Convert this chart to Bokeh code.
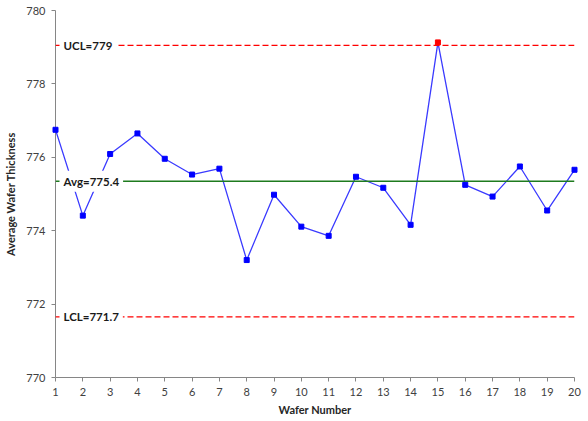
from bokeh.plotting import figure
from bokeh.models import Range1d, FixedTicker, Span, Label, ColumnDataSource
from bokeh.embed import file_html
from bokeh.resources import INLINE

wafer = list(range(1, 21))
thickness = [776.75, 774.41, 776.09, 776.65, 775.96, 775.53, 775.69, 773.20, 774.98, 774.11,
             773.86, 775.47, 775.17, 774.16, 779.13, 775.25, 774.93, 775.75, 774.55, 775.66]
ucl = 779.05
avg = 775.35
lcl = 771.65
limit_labels = ["UCL=779", "Avg=775.4", "LCL=771.7"]
x_ticks = list(range(1, 21))
y_ticks = [770, 772, 774, 776, 778, 780]

FONT = "Lato"

p = figure(width=588, height=421, output_backend="svg", toolbar_location=None,
           x_range=Range1d(1, 20), y_range=Range1d(770, 780),
           min_border_left=55, min_border_right=14, min_border_top=10, min_border_bottom=44)
p.outline_line_color = None
p.grid.visible = False
p.background_fill_color = "white"
p.border_fill_color = "white"

for ax in (p.xaxis[0], p.yaxis[0]):
    ax.axis_line_color = "#868686"
    ax.axis_line_width = 1
    ax.major_tick_line_color = "#868686"
    ax.major_tick_out = 4
    ax.major_tick_in = 0
    ax.minor_tick_out = 0
    ax.minor_tick_in = 0
    ax.major_label_text_font = FONT
    ax.major_label_text_font_size = "11px"
    ax.major_label_text_color = "#404040"
    ax.axis_label_text_font = FONT
    ax.axis_label_text_font_size = "11px"
    ax.axis_label_text_font_style = "bold"
    ax.axis_label_text_color = "#262626"

p.xaxis.ticker = FixedTicker(ticks=x_ticks)
p.yaxis.ticker = FixedTicker(ticks=y_ticks)
p.xaxis.axis_label = "Wafer Number"
p.yaxis.axis_label = "Average Wafer Thickness"
p.xaxis.major_label_standoff = 6
p.yaxis.major_label_standoff = 6
p.xaxis.axis_label_standoff = 4
p.yaxis.axis_label_standoff = 6

# control lines
p.add_layout(Span(location=ucl, dimension="width", line_color="#FF0000", line_width=1.3, line_dash="6 3"))
p.add_layout(Span(location=lcl, dimension="width", line_color="#FF0000", line_width=1.3, line_dash="6 3"))
p.add_layout(Span(location=avg, dimension="width", line_color="#1E7B1E", line_width=1.5))

colors = ["#FF0000" if v > ucl else "#0000FF" for v in thickness]
src = ColumnDataSource(dict(x=wafer, y=thickness, c=colors))
p.line("x", "y", source=src, line_color="#3A3AFF", line_width=1.3)

for val, txt in zip([ucl, avg, lcl], limit_labels):
    p.add_layout(Label(x=1, y=val, text=txt, x_offset=4, anchor="center_left",
                       text_font=FONT, text_font_size="11.5px", text_font_style="bold",
                       text_color="#1a1a1a", background_fill_color="white",
                       padding=4))

r = p.scatter("x", "y", source=src, marker="square", size=5, fill_color="c", line_color="c")
r.level = "overlay"

open("out.html", "w").write(file_html(p, INLINE))
